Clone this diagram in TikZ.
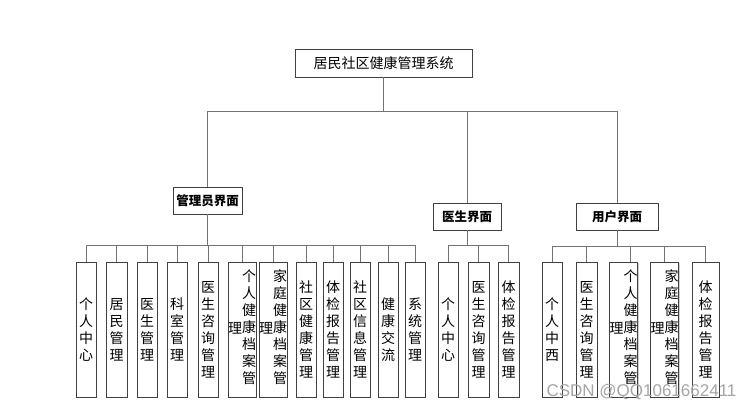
\documentclass[tikz,border=0pt]{standalone}
\usepackage{fontspec}
\setmainfont{Noto Sans CJK SC}
\newfontfamily\wmfont{Liberation Sans}
\usetikzlibrary{shadows}
\newcommand{\wrapli}[1]{理\begin{tabular}[c]{@{}c@{}}#1\end{tabular}}
\tikzset{
  box/.style={draw=black!75, line width=0.8pt, fill=white, inner sep=0pt,
    drop shadow={shadow xshift=1.2pt, shadow yshift=-1.2pt, fill=black!30, opacity=0.6}},
  leaf/.style={box, minimum width=20pt, minimum height=135pt, align=center,
    font=\fontsize{14}{17}\selectfont},
  wideleaf/.style={leaf, minimum width=28pt},
  midbox/.style={box, minimum height=27pt, font=\bfseries\fontsize{12.5}{14}\selectfont},
  link/.style={draw=black!55, line width=0.8pt},
}
\begin{document}
\begin{tikzpicture}[x=1pt,y=-1pt]
\fill[white] (0,0) rectangle (756,412);
\useasboundingbox (0,0) rectangle (756,412);

% root
\node[box, minimum width=177pt, minimum height=28pt, font=\fontsize{14}{16}\selectfont] (root) at (383.5,63) {居民社区健康管理系统};

% level 2
\node[midbox, minimum width=69pt] (admin) at (207.5,200.5) {管理员界面};
\node[midbox, minimum width=68pt] (doc) at (467,216.5) {医生界面};
\node[midbox, minimum width=82pt] (user) at (617,216.5) {用户界面};

% admin leaves
\node[leaf] (b1) at (86,329.5) {个\\人\\中\\心};
\node[leaf, minimum width=21pt] (b2) at (116.5,329.5) {居\\民\\管\\理};
\node[leaf] (b3) at (147,329.5) {医\\生\\管\\理};
\node[leaf] (b4) at (177,329.5) {科\\室\\管\\理};
\node[leaf] (b5) at (208,329.5) {医\\生\\咨\\询\\管\\理};
\node[wideleaf] (b6) at (242,329.5) {\wrapli{个\\人\\健\\康\\档\\案\\管}};
\node[wideleaf] (b7) at (273,329.5) {\wrapli{家\\庭\\健\\康\\档\\案\\管}};
\node[leaf] (b8) at (306,329.5) {社\\区\\健\\康\\管\\理};
\node[leaf] (b9) at (333,329.5) {体\\检\\报\\告\\管\\理};
\node[leaf] (b10) at (360,329.5) {社\\区\\信\\息\\管\\理};
\node[leaf] (b11) at (388,329.5) {健\\康\\交\\流};
\node[leaf] (b12) at (415,329.5) {系\\统\\管\\理};

% doctor leaves
\node[leaf] (d1) at (448,329.5) {个\\人\\中\\心};
\node[leaf, minimum width=21pt] (d2) at (478.5,329.5) {医\\生\\咨\\询\\管\\理};
\node[leaf, minimum width=21pt] (d3) at (508.5,329.5) {体\\检\\报\\告\\管\\理};

% user leaves
\node[leaf] (u1) at (552,329.5) {个\\人\\中\\西};
\node[leaf, minimum width=21pt] (u2) at (586.5,329.5) {医\\生\\咨\\询\\管\\理};
\node[wideleaf, minimum width=27pt] (u3) at (623.5,329.5) {\wrapli{个\\人\\健\\康\\档\\案\\管}};
\node[wideleaf, minimum width=27pt] (u4) at (664.5,329.5) {\wrapli{家\\庭\\健\\康\\档\\案\\管}};
\node[leaf, minimum width=27pt] (u5) at (705.5,329.5) {体\\检\\报\\告\\管\\理};

% buses
\coordinate (rbus) at (383.5,111);
\coordinate (abus) at (207.5,245);
\coordinate (dbus) at (467,245);
\coordinate (ubus) at (617,246);
\coordinate (u3c) at (630,262);

\draw[link] (root.south) -- (rbus);
\draw[link] (rbus) -| (admin.north);
\draw[link] (rbus) -| (doc.north);
\draw[link] (rbus) -| (user.north);

\draw[link] (admin.south) -- (abus);
\foreach \n in {b1,b2,b3,b4,b5,b6,b7,b8,b9,b10,b11,b12}
  \draw[link] (abus) -| (\n.north);

\draw[link] (doc.south) -- (dbus);
\foreach \n in {d1,d2,d3}
  \draw[link] (dbus) -| (\n.north);

\draw[link] (user.south) -- (ubus);
\foreach \n in {u1,u2,u4,u5}
  \draw[link] (ubus) -| (\n.north);
\draw[link] (ubus) -| (u3c);

% watermark
\node[font=\wmfont\fontsize{17}{19}\selectfont, text=black!35, inner sep=0pt] (wm) at (641.5,392) {CSDN @QQ1061662411};
\end{tikzpicture}
\end{document}
